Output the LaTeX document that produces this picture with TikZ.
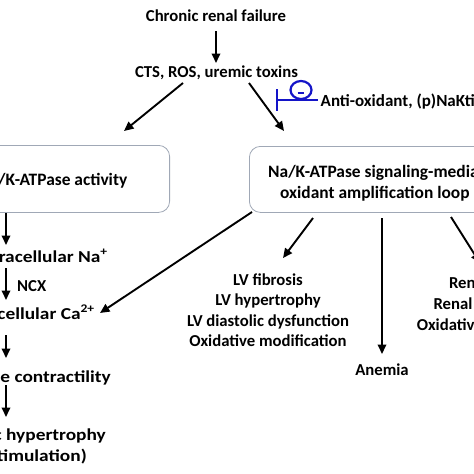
\documentclass[tikz,border=0pt]{standalone}
\usepackage{fontspec}
\setmainfont{Carlito}
\usetikzlibrary{arrows.meta}
\definecolor{boxgray}{RGB}{160,168,182}
\definecolor{inhblue}{RGB}{20,20,200}
\newcommand{\wide}[1]{\scalebox{1.16}[1]{#1}}
\begin{document}
\begin{tikzpicture}[x=1pt,y=-1pt,
  txt/.style={font=\bfseries\fontsize{16.7}{20}\selectfont, inner sep=0pt, anchor=base},
  btxt/.style={txt, font=\bfseries\fontsize{17.4}{20}\selectfont},
  atxt/.style={txt, font=\bfseries\fontsize{17.0}{20}\selectfont},
  arr/.style={line width=1.9pt, -{Triangle[length=9.5pt,width=8.5pt]}},
  box/.style={draw=boxgray, line width=0.8pt, rounded corners=11pt, inner sep=0pt},
  inh/.style={draw=inhblue, line width=2.4pt}]
\useasboundingbox (0,0) rectangle (474,474);
\clip (0,0) rectangle (474,474);
\fill[white] (0,0) rectangle (474,474);

% top
\node[txt] (crf) at (216,21) {Chronic renal failure};
\node[txt] (cts) at (216.5,77) {CTS, ROS, uremic toxins};
\node[atxt,anchor=base west] (anti) at (320.5,106) {Anti-oxidant, (p)NaKtide};

% boxes
\node[box, minimum width=230pt, minimum height=67pt, anchor=north east] (lbox) at (170,145) {};
\node[btxt, anchor=base east] (lbt) at (127.5,185) {Na/K-ATPase activity};
\node[box, minimum width=260pt, minimum height=66pt, anchor=north west] (rbox) at (249,146) {};
\node[btxt, anchor=base west] (rb1) at (268,177) {Na/K-ATPase signaling-mediated};
\node[btxt, anchor=base west] (rb2) at (280,198) {oxidant amplification loop};

% left column
\node[txt, anchor=base east] (na) at (108,262) {\wide{Intracellular Na\textsuperscript{+}}};
\node[txt, anchor=base west] (ncx) at (17,291) {NCX};
\node[txt, anchor=base east] (ca) at (95,319) {\wide{Intracellular Ca\textsuperscript{2+}}};
\node[txt, anchor=base east] (con) at (111,382) {\wide{Increase contractility}};
\node[txt, anchor=base east] (hyp) at (106,440) {\wide{Cardiac hypertrophy}};
\node[txt, anchor=base east] (stim) at (87,461) {\wide{(stimulation)}};

% LV block
\node[txt] (lv1) at (268,285) {LV fibrosis};
\node[txt] (lv2) at (268,305.5) {LV hypertrophy};
\node[txt] (lv3) at (268,326) {LV diastolic dysfunction};
\node[txt] (lv4) at (268,346.5) {Oxidative modification};

\node[txt] (an) at (382,375) {Anemia};

\node[txt] (r1) at (495.5,288) {Renal fibrosis};
\node[txt] (r2) at (495.5,309) {Renal dysfunction};
\node[txt] (r3) at (495.5,330) {Oxidative modification};

% arrow end points
\coordinate (a1s) at (216,31);  \coordinate (a1e) at (216,63);
\coordinate (a2s) at (183,83);  \coordinate (a2e) at (124,131);
\coordinate (a3s) at (249,83);  \coordinate (a3e) at (284,131);
\coordinate (l1s) at (6,213);   \coordinate (l1e) at (6,245);
\coordinate (l2s) at (6,268);   \coordinate (l2e) at (6,300);
\coordinate (l3s) at (6,335);   \coordinate (l3e) at (6,358);
\coordinate (l4s) at (6,385);   \coordinate (l4e) at (6,417);
\coordinate (xs) at (252,212);  \coordinate (xe) at (100,313);
\coordinate (lvs) at (313,218); \coordinate (lve) at (283,258);
\coordinate (ans) at (382,218); \coordinate (ane) at (382,354);
\coordinate (rs) at (451,217);  \coordinate (re) at (480,263);

\draw[arr] (a1s) -- (a1e);
\draw[arr] (a2s) -- (a2e);
\draw[arr] (a3s) -- (a3e);
\draw[arr] (l1s) -- (l1e);
\draw[arr] (l2s) -- (l2e);
\draw[arr] (l3s) -- (l3e);
\draw[arr] (l4s) -- (l4e);
\draw[arr] (xs) -- (xe);
\draw[arr] (lvs) -- (lve);
\draw[arr] (ans) -- (ane);
\draw[arr] (rs) -- (re);

% inhibitor
\coordinate (ib1) at (277,89); \coordinate (ib2) at (277,111);
\coordinate (ih) at (277,100); \coordinate (ihe) at (318,100);
\draw[inh] (ib1) -- (ib2);
\draw[inh] (ih) -- (ihe);
\draw[inhblue, line width=2.2pt] (301,90) ellipse [x radius=10.5pt, y radius=9pt];
\draw[inhblue, line width=2pt] (297.5,93) -- (303.5,93);
\end{tikzpicture}
\end{document}
